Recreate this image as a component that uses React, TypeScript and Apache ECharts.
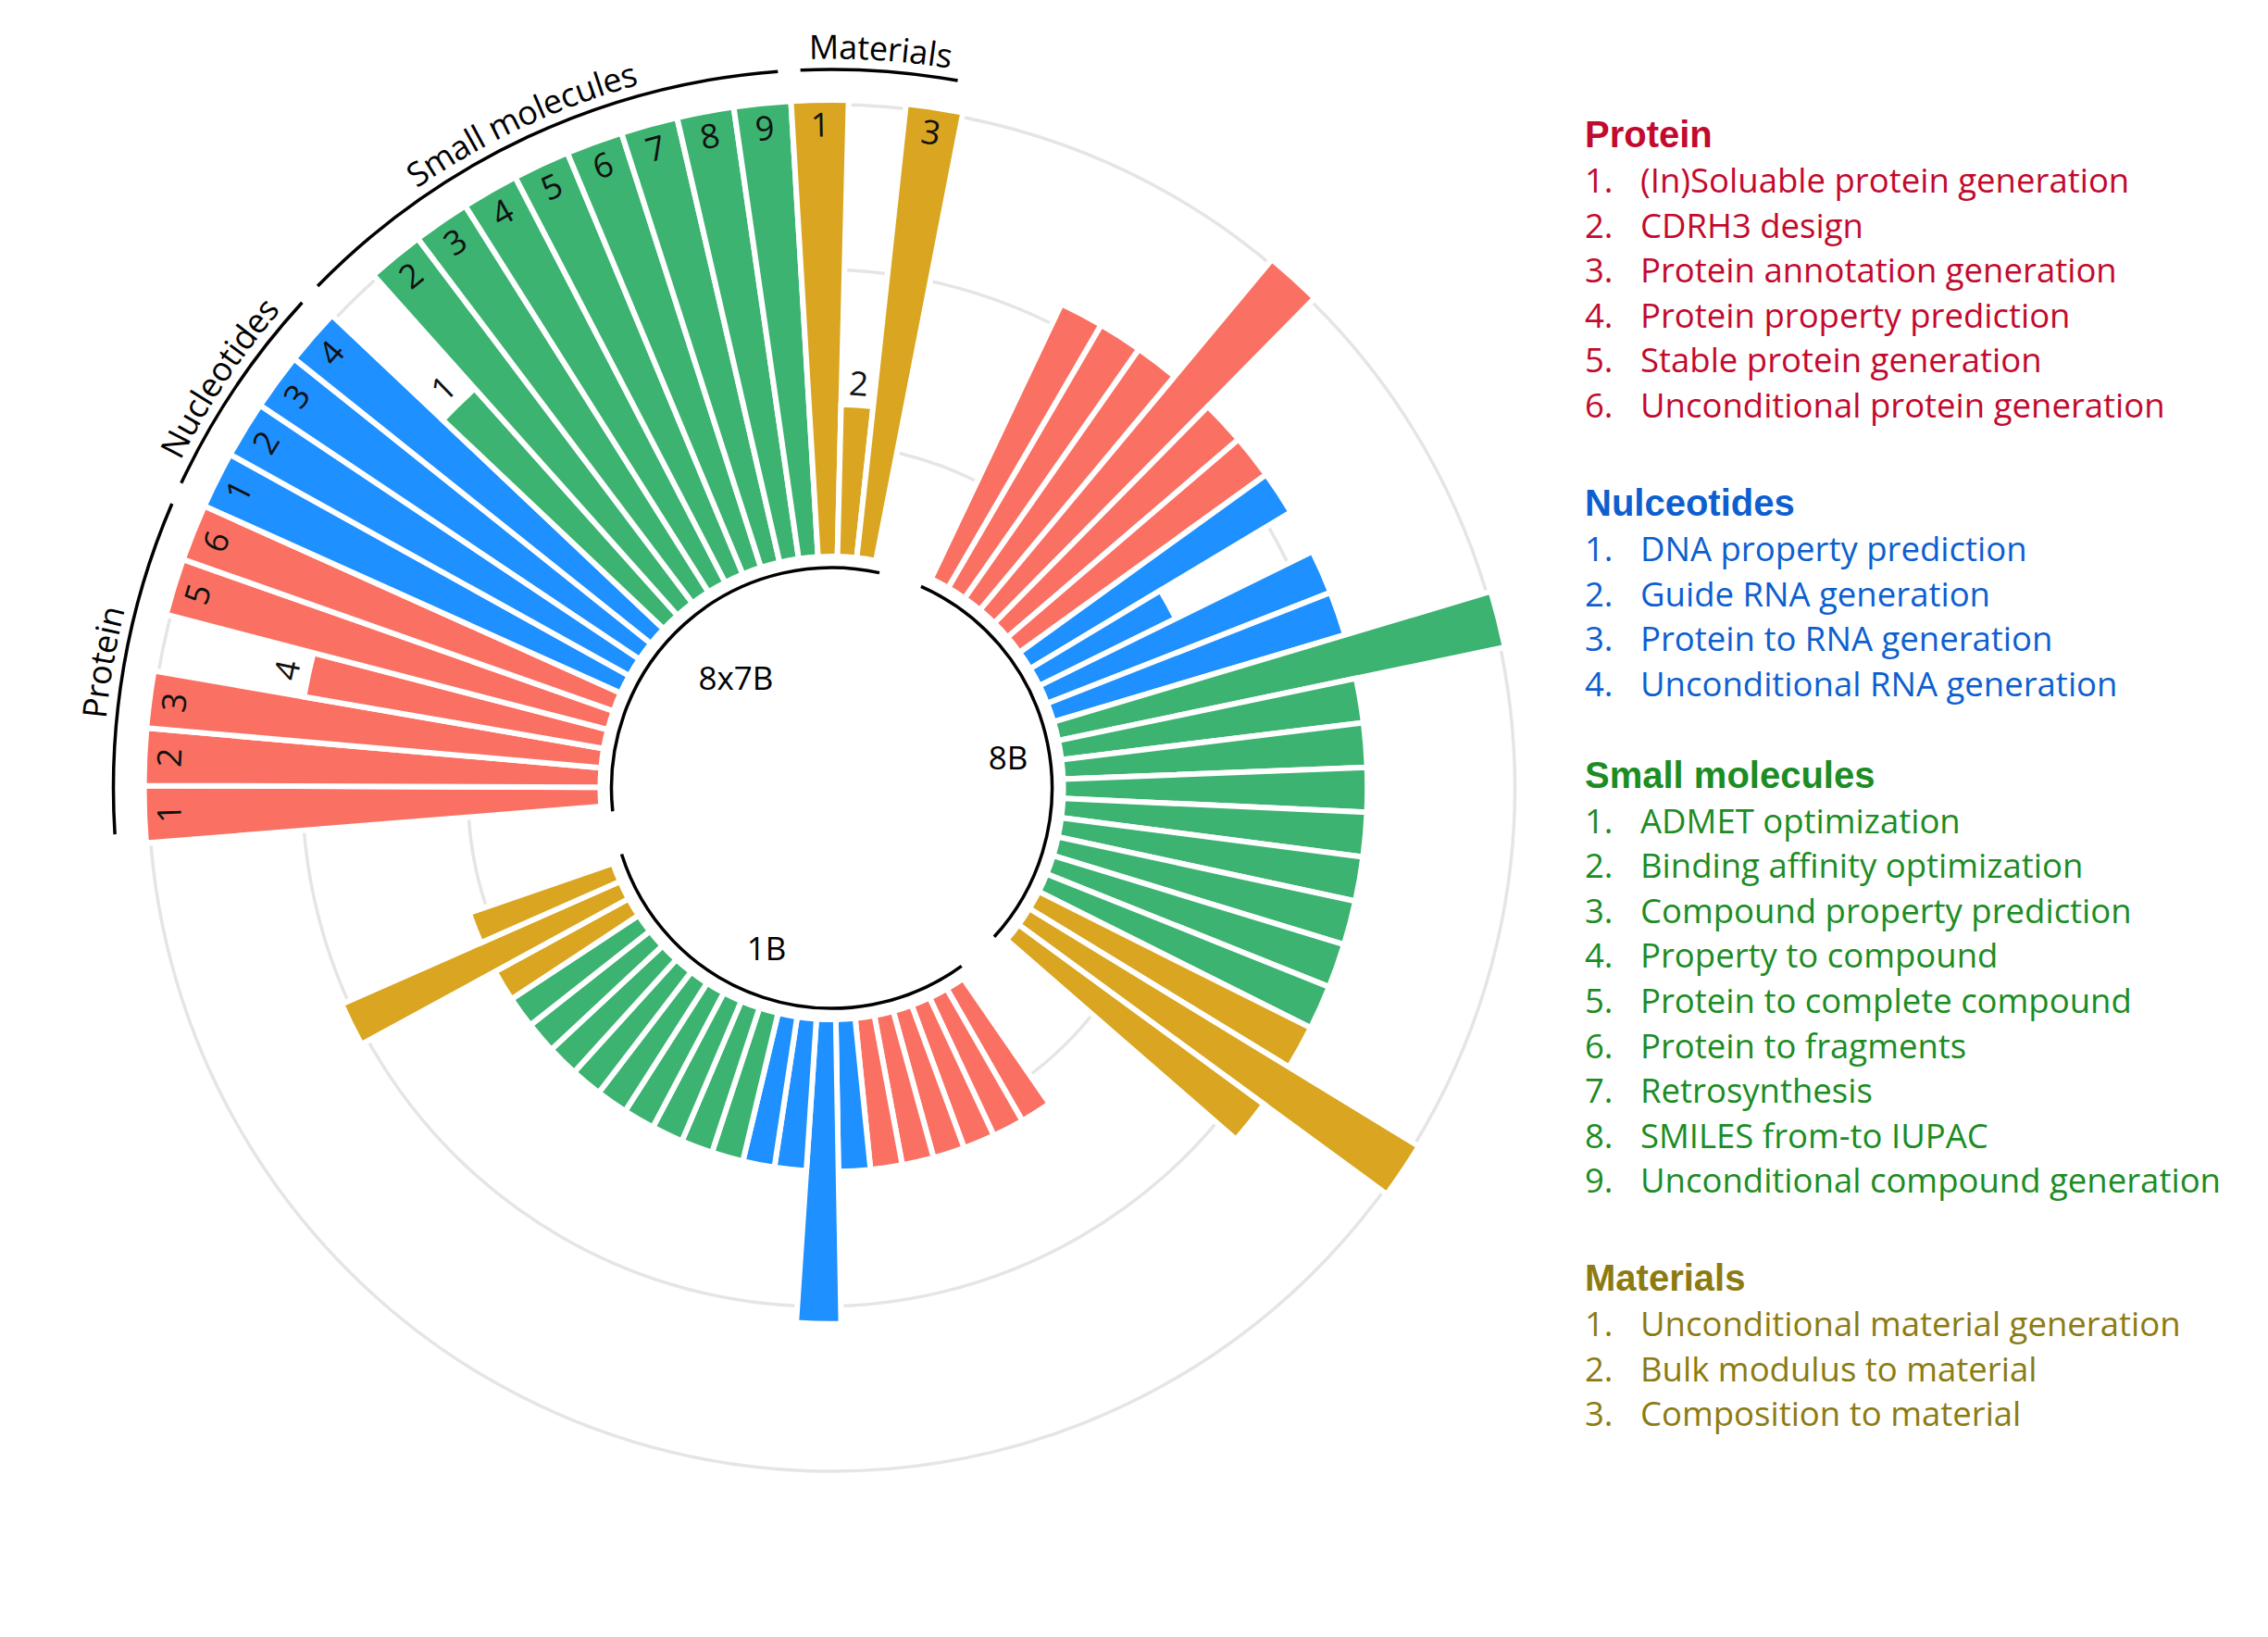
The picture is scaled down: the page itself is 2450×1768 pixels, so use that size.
import React, { useEffect, useRef } from 'react';
import * as echarts from 'echarts';

// ---------------- data ----------------
const models = ['8x7B', '8B', '1B'];
const domainNames = ['Protein', 'Nucleotides', 'Small molecules', 'Materials'];
const legendTitles = ['Protein', 'Nulceotides', 'Small molecules', 'Materials'];

// scores (1..3) per task, clockwise order
const protein8x7B = [3, 3, 3, 2, 3, 3];
const nucleotide8x7B = [3, 3, 3, 3];
const small8x7B = [2, 3, 3, 3, 3, 3, 3, 3, 3];
const material8x7B = [3, 1, 3];

const protein8B = [2, 2, 2, 3, 2, 2];
const nucleotide8B = [2, 1, 2, 2];
const small8B = [3, 2, 2, 2, 2, 2, 2, 2, 2];
const material8B = [2, 3, 2];

const protein1B = [1, 1, 1, 1, 1, 1];
const nucleotide1B = [1, 2, 1, 1];
const small1B = [1, 1, 1, 1, 1, 1, 1, 1, 1];
const material1B = [1, 2, 1];

const proteinTasks = [
  '(In)Soluable protein generation',
  'CDRH3 design',
  'Protein annotation generation',
  'Protein property prediction',
  'Stable protein generation',
  'Unconditional protein generation',
];
const nucleotideTasks = [
  'DNA property prediction',
  'Guide RNA generation',
  'Protein to RNA generation',
  'Unconditional RNA generation',
];
const smallMoleculeTasks = [
  'ADMET optimization',
  'Binding affinity optimization',
  'Compound property prediction',
  'Property to compound',
  'Protein to complete compound',
  'Protein to fragments',
  'Retrosynthesis',
  'SMILES from-to IUPAC',
  'Unconditional compound generation',
];
const materialTasks = [
  'Unconditional material generation',
  'Bulk modulus to material',
  'Composition to material',
];

const radiusMax = 3;

// ---------------- styles / layout ----------------
const barColors = ['#FA7163', '#1E90FF', '#3CB371', '#DAA520'];
const legendColors = ['#c20a2e', '#0d5fcf', '#1c8c24', '#8c7b12'];
const FONT = '"Open Sans", sans-serif';
const CX = 898.5;
const CY = 851;
const GAP_SLOTS = 3;
const FIRST_CENTER = 267.8; // compass angle of first slot centre
// background guide rings: [cx, cy, r]
const RINGS = [
  [884.5, 858.4, 379],
  [886.5, 851, 560],
  [898.5, 851, 738],
];

export default function App() {
  const ref = useRef<HTMLDivElement>(null);

  useEffect(() => {
    document.body.style.margin = '0';
    document.body.style.overflow = 'hidden';
    if (!ref.current) return;
    const chart = echarts.init(ref.current, undefined, { renderer: 'svg' });

    const scoresByModel = [
      [protein8x7B, nucleotide8x7B, small8x7B, material8x7B],
      [protein8B, nucleotide8B, small8B, material8B],
      [protein1B, nucleotide1B, small1B, material1B],
    ];
    const categories: string[] = [];
    const seriesData: any[][] = [[], [], [], []];
    const groupStart: number[] = [];
    const domainStart: number[] = [];
    const domainLen: number[] = [];
    scoresByModel.forEach((domains, m) => {
      groupStart.push(categories.length);
      domains.forEach((vals, d) => {
        if (m === 0) {
          domainStart.push(categories.length);
          domainLen.push(vals.length);
        }
        vals.forEach((v, k) => {
          categories.push(`${models[m]} ${domainNames[d]} ${k + 1}`);
          for (let s = 0; s < 4; s++) {
            if (s !== d) {
              seriesData[s].push('-');
            } else if (m === 0) {
              seriesData[s].push({
                value: v,
                num: k + 1,
                label: {
                  show: true,
                  position: v === radiusMax ? 'insideEnd' : 'end',
                  distance: v === radiusMax ? 8 : 6,
                },
              });
            } else {
              seriesData[s].push(v);
            }
          }
        });
      });
      for (let g = 0; g < GAP_SLOTS; g++) {
        categories.push(`gap ${m}-${g}`);
        seriesData.forEach((a) => a.push('-'));
      }
    });
    const N = categories.length;
    const SLOT = 360 / N;
    const startAngle = (((90 - FIRST_CENTER + SLOT / 2) % 360) + 360) % 360;
    const edge = (i: number) => FIRST_CENTER - SLOT / 2 + i * SLOT;
    const rad = (c: number) => ((c - 90) * Math.PI) / 180;
    const pt = (c: number, r: number) => [
      CX + r * Math.sin((c * Math.PI) / 180),
      CY - r * Math.cos((c * Math.PI) / 180),
    ];

    const graphics: any[] = [];
    const arc = (c0: number, c1: number, r: number) => ({
      type: 'arc',
      silent: true,
      shape: { cx: CX, cy: CY, r, startAngle: rad(c0), endAngle: rad(c1), clockwise: true },
      style: { stroke: '#000', lineWidth: 3.5, fill: 'none' },
    });

    const groupLen = scoresByModel[0].reduce((a, b) => a + b.length, 0);
    groupStart.forEach((s) => {
      graphics.push(arc(edge(s) - 1.5, edge(s + groupLen) + 1.5, 238));
    });

    const ctx = document.createElement('canvas').getContext('2d') as CanvasRenderingContext2D;
    const labelSize = 36;
    ctx.font = `${labelSize}px "Open Sans"`;
    const curvedText = (text: string, center: number, r: number) => {
      const widths = text.split('').map((ch) => ctx.measureText(ch).width);
      const total = widths.reduce((a, b) => a + b, 0);
      let acc = 0;
      const startC = center - ((total / r) * 180) / Math.PI / 2;
      text.split('').forEach((ch, i) => {
        const mid = startC + (((acc + widths[i] / 2) / r) * 180) / Math.PI;
        acc += widths[i];
        if (ch === ' ') return;
        const [x, y] = pt(mid, r);
        graphics.push({
          type: 'text',
          silent: true,
          x,
          y,
          rotation: (-mid * Math.PI) / 180,
          style: {
            text: ch,
            fontSize: labelSize,
            fontFamily: FONT,
            fill: '#000',
            align: 'center',
            verticalAlign: 'middle',
          },
        });
      });
    };
    domainStart.forEach((s, d) => {
      const c0 = edge(s) + 0.9;
      const c1 = edge(s + domainLen[d]) - 0.9;
      graphics.push(arc(c0, c1, 776));
      curvedText(domainNames[d], (c0 + c1) / 2, 801);
    });

    const modelLabelPos = [
      [795, 731],
      [1089, 817],
      [828, 1023],
    ];
    models.forEach((m, i) => {
      graphics.push({
        type: 'text',
        silent: true,
        x: modelLabelPos[i][0],
        y: modelLabelPos[i][1],
        style: { text: m, fontSize: 35, fontFamily: FONT, fill: '#000', align: 'center', verticalAlign: 'middle' },
      });
    });

    const taskLists = [proteinTasks, nucleotideTasks, smallMoleculeTasks, materialTasks];
    const headerY = [145, 543, 836.5, 1380];
    taskLists.forEach((tasks, d) => {
      graphics.push({
        type: 'text',
        silent: true,
        x: 1712,
        y: headerY[d],
        style: {
          text: legendTitles[d],
          fontSize: 40,
          fontWeight: 'bold',
          fontFamily: '"Liberation Sans", Arial, sans-serif',
          fill: legendColors[d],
          align: 'left',
          verticalAlign: 'middle',
        },
      });
      tasks.forEach((t, k) => {
        const y = headerY[d] + 49 + k * 48.6;
        graphics.push({
          type: 'text',
          silent: true,
          x: 1712,
          y,
          style: { text: `${k + 1}.`, fontSize: 36.5, fontFamily: FONT, fill: legendColors[d], align: 'left', verticalAlign: 'middle' },
        });
        graphics.push({
          type: 'text',
          silent: true,
          x: 1772,
          y,
          style: { text: t, fontSize: 36.5, fontFamily: FONT, fill: legendColors[d], align: 'left', verticalAlign: 'middle' },
        });
      });
    });

    const hidden = {
      axisLine: { show: false },
      axisTick: { show: false },
      axisLabel: { show: false },
      splitLine: { show: false },
    };

    chart.setOption({
      animation: false,
      polar: [
        { center: [CX, CY], radius: [250, 743] },
        ...RINGS.map(([x, y, r]) => ({ center: [x, y], radius: [0, r] })),
      ],
      angleAxis: [
        { polarIndex: 0, type: 'category', data: categories, startAngle, clockwise: true, boundaryGap: true, ...hidden },
        ...RINGS.map((_, i) => ({ polarIndex: i + 1, type: 'value', min: 0, max: 360, ...hidden })),
      ],
      radiusAxis: [
        { polarIndex: 0, type: 'value', min: 0, max: radiusMax, ...hidden },
        ...RINGS.map((_, i) => ({
          polarIndex: i + 1,
          type: 'value',
          min: 0,
          max: 1,
          interval: 1,
          axisLine: { show: false },
          axisTick: { show: false },
          axisLabel: { show: false },
          splitLine: { show: true, lineStyle: { color: ['rgba(0,0,0,0)', '#e5e5e5'], width: 3.5 } },
        })),
      ],
      series: domainNames.map((name, d) => ({
        type: 'bar',
        name,
        coordinateSystem: 'polar',
        polarIndex: 0,
        stack: 'all',
        barCategoryGap: '0%',
        data: seriesData[d],
        silent: true,
        z: 5,
        itemStyle: { color: barColors[d], borderColor: '#fff', borderWidth: 6 },
        label: {
          show: false,
          formatter: (p: any) => (p.data && p.data.num ? String(p.data.num) : ''),
          fontFamily: FONT,
          fontSize: 36,
          color: '#111',
        },
      })),
      graphic: graphics,
    });

    return () => chart.dispose();
  }, []);

  return <div ref={ref} style={{ width: 2450, height: 1768 }} />;
}
